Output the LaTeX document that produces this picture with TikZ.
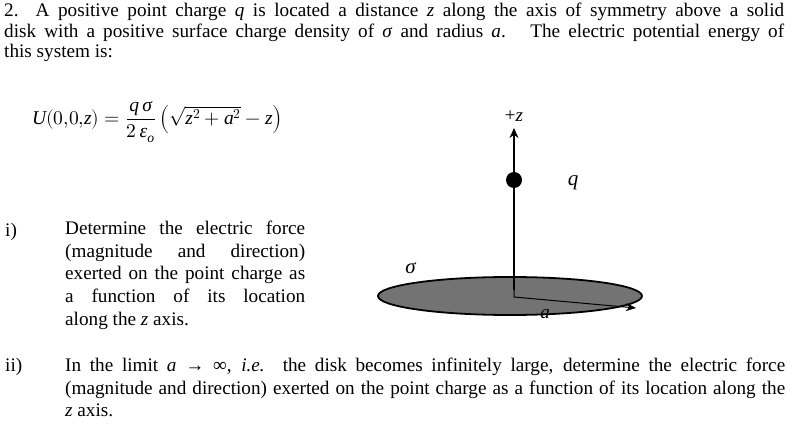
\documentclass[tikz,border=0pt]{standalone}
\usetikzlibrary{arrows.meta}
\usepackage{fontspec}
\setmainfont{Liberation Serif}
\usepackage{amsmath}
\usepackage{unicode-math}
\setmathfont{Latin Modern Math}
\newcommand\mi[1]{\textit{#1}}
\newcommand\ti[1]{\text{\itshape #1}}
\hyphenpenalty=10000
\exhyphenpenalty=10000
\begin{document}
\begin{tikzpicture}[x=1pt,y=-1pt,
  txt/.style={anchor=north west,inner sep=0pt,align=justify,font=\fontsize{19.2}{20.3}\selectfont},
  txtb/.style={txt,font=\fontsize{19.2}{22.6}\selectfont},
  lbl/.style={inner sep=0pt,font=\fontsize{19}{20}\selectfont}]
\useasboundingbox (0,0) rectangle (805,435);
\node[txt,text width=780pt] (intro) at (4,3) {2.\ \ A positive point charge \mi{q} is located a distance \mi{z} along the axis of symmetry above a solid\linebreak disk with a positive surface charge density of \mi{σ} and radius \mi{a}. \ The electric potential energy of\linebreak this system is:};
\node[lbl,anchor=west,font=\fontsize{19.5}{20}\selectfont] (eq) at (32,122) {$\ti{U}(0{,}0{,}\ti{z})=\dfrac{\ti{q}\,\ti{σ}}{2\,\ti{ε}_{\ti{o}}}\left(\sqrt{\ti{z}^2+\ti{a}^2}-\ti{z}\right)$};
\node[txt] (ia) at (5,223) {i)};
\node[txtb,text width=240pt] (itext) at (65,221) {Determine the electric force (magnitude and direction) exerted on the point charge as\linebreak a function of its location\linebreak along the \mi{z} axis.};
\node[txt] (iia) at (5,358) {ii)};
\node[txtb,text width=720pt] (iitext) at (65,358) {In the limit \mi{a} → ∞, \mi{i.e.} the disk becomes infinitely large, determine the electric force (magnitude and direction) exerted on the point charge as a function of its location along the \mi{z} axis.};
\draw[line width=1.8pt,fill=black!55] (510,296) ellipse [x radius=132,y radius=19];
\coordinate (o) at (514,290);
\coordinate (top) at (514,128);
\coordinate (rim) at (636,308);
\draw[line width=1.2pt,-{Stealth[length=10pt,width=9pt]}] (o) -- (top);
\draw[line width=1pt,-{Stealth[length=10pt,width=8pt]}] (o) -- (514,297) -- (rim);
\fill (514,180) circle (8);
\node[lbl] (pz) at (514,116) {+\mi{z}};
\node[lbl,font=\fontsize{21}{22}\selectfont] (q) at (573,183) {\mi{q}};
\node[lbl,font=\fontsize{21}{22}\selectfont] (sig) at (411,268) {\mi{σ}};
\node[lbl] (a) at (545,314) {\mi{a}};
\end{tikzpicture}
\end{document}
